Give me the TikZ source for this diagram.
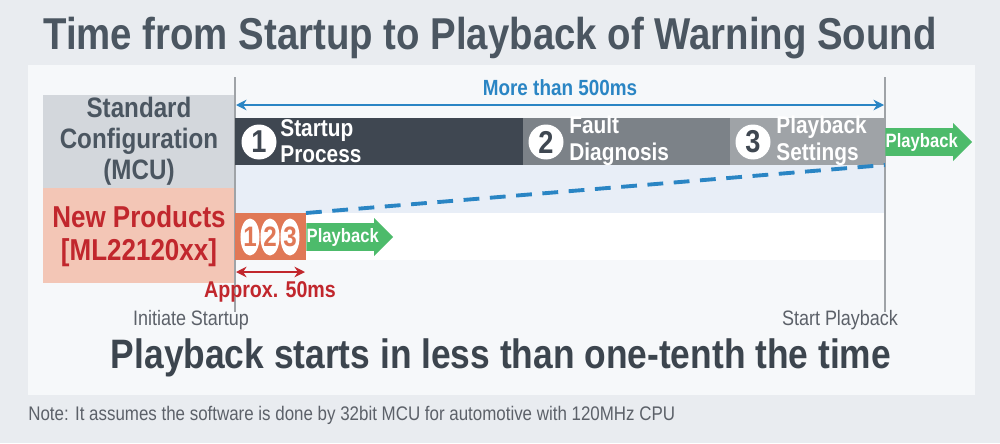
\documentclass[tikz,border=0pt]{standalone}
\usepackage{fontspec}
\setmainfont[FakeStretch=0.86]{Liberation Sans}
\usetikzlibrary{shapes.arrows,shapes.geometric,arrows.meta}

\definecolor{pagebg}{HTML}{E9ECF0}
\definecolor{panelbg}{HTML}{F6F8FA}
\definecolor{stdbox}{HTML}{D3D7DC}
\definecolor{newbox}{HTML}{F3C6B6}
\definecolor{inkgray}{HTML}{4B5661}
\definecolor{bardark}{HTML}{3F4751}
\definecolor{barmid}{HTML}{7C8288}
\definecolor{barlight}{HTML}{9FA3A7}
\definecolor{timeblue}{HTML}{2A85C4}
\definecolor{bandblue}{HTML}{E8EEF7}
\definecolor{playgreen}{HTML}{4DBB6B}
\definecolor{fastorange}{HTML}{E07856}
\definecolor{newred}{HTML}{C1272D}
\definecolor{notegray}{HTML}{5C6169}

\newcommand{\sizept}[1]{\fontsize{#1}{1.1\dimexpr #1pt\relax}\selectfont}

\begin{document}
\begin{tikzpicture}[x=0.02cm, y=-0.02cm,
    playarrow/.style={single arrow, fill=playgreen, text=white, font=\sizept{11}\bfseries,
      single arrow head extend=0.08cm, minimum height=1.64cm, minimum width=0.76cm,
      inner xsep=0pt, inner ysep=1pt, anchor=west},
    stepnum/.style={circle, fill=white, text=bardark, minimum size=0.7cm, inner sep=0pt,
      font=\sizept{18}\bfseries},
    steptext/.style={text=white, align=left, anchor=west, font=\sizept{13.8}\bfseries,
      inner sep=0pt},
    fastnum/.style={ellipse, fill=white, text=fastorange, minimum width=0.36cm,
      minimum height=0.74cm, inner sep=0pt, font=\sizept{16}\bfseries},
    marktext/.style={text=notegray, font=\sizept{11.9}}]

  % backgrounds
  \fill[pagebg] (0,0) rectangle (1000,443);
  \useasboundingbox (0,0) rectangle (1000,443);
  \fill[panelbg] (28,65) rectangle (975,395);
  \fill[bandblue] (235,165) rectangle (885,213);
  \fill[white] (235,213) rectangle (885,260);

  \node[text=inkgray, font=\sizept{25.4}\bfseries] (title) at (490,38)
    {Time from Startup to Playback of Warning Sound};

  % row labels
  \fill[stdbox] (43,95) rectangle (234,188);
  \fill[newbox] (43,188) rectangle (234,283);
  \node[text=inkgray, align=center, font=\sizept{16}\bfseries] (stdlabel) at (139,141)
    {Standard\\Configuration\\(MCU)};
  \node[text=newred, align=center, font=\sizept{17.2}\bfseries] (newlabel) at (139,236)
    {New Products\\{[ML22120xx]}};

  % time marks
  \coordinate (t0top) at (235,77);
  \coordinate (t0bot) at (235,312);
  \coordinate (t1top) at (885,77);
  \coordinate (t1bot) at (885,312);
  \draw[barlight, line width=1.2pt] (t0top) -- (t0bot);
  \draw[barlight, line width=1.2pt] (t1top) -- (t1bot);

  % standard configuration
  \coordinate (longA) at (236,105);
  \coordinate (longB) at (884,105);
  \draw[timeblue, line width=1.6pt, {Stealth[length=6pt,width=6pt]}-{Stealth[length=6pt,width=6pt]}]
    (longA) -- (longB);
  \node[text=timeblue, font=\sizept{12.5}\bfseries] (longtime) at (560,88) {More than 500ms};

  \fill[bardark] (235,118) rectangle (523,165);
  \fill[barmid] (523,118) rectangle (730,165);
  \fill[barlight] (730,118) rectangle (885,165);

  \node[stepnum] (one) at (259,142) {1};
  \node[steptext] (onetext) at (280,141) {Startup\\Process};
  \node[stepnum] (two) at (546,142) {2};
  \node[steptext] (twotext) at (569,141) {Fault\\Diagnosis};
  \node[stepnum] (three) at (753,142) {3};
  \node[steptext] (threetext) at (776,141) {Playback\\Settings};

  \node[playarrow] (stdplay) at (885,142) {Playback};

  % new products
  \fill[fastorange] (235,213) rectangle (306,260);
  \node[fastnum] (fone) at (250,237) {1};
  \node[fastnum] (ftwo) at (270,237) {2};
  \node[fastnum] (fthree) at (290,237) {3};
  \node[playarrow] (newplay) at (306,237) {Playback};

  \coordinate (fastend) at (306,213);
  \coordinate (slowend) at (885,165);
  \draw[timeblue, line width=2.2pt, dash pattern=on 9pt off 6pt] (fastend) -- (slowend);

  \coordinate (shortA) at (236,272);
  \coordinate (shortB) at (305,272);
  \draw[newred, line width=1.6pt, {Stealth[length=6pt,width=6pt]}-{Stealth[length=6pt,width=6pt]}]
    (shortA) -- (shortB);
  \node[text=newred, font=\sizept{13}\bfseries] (shorttime) at (270,292) {Approx. 50ms};

  \node[marktext] (initiate) at (191,320) {Initiate Startup};
  \node[marktext] (startplay) at (840,320) {Start Playback};

  % conclusion
  \node[text=inkgray!80!black, font=\sizept{23.4}\bfseries] (result) at (501,358)
    {Playback starts in less than one-tenth the time};

  \node[text=notegray, anchor=west, inner sep=0pt, font=\sizept{11.2}] (note) at (28,415)
    {Note: It assumes the software is done by 32bit MCU for automotive with 120MHz CPU};
\end{tikzpicture}
\end{document}
